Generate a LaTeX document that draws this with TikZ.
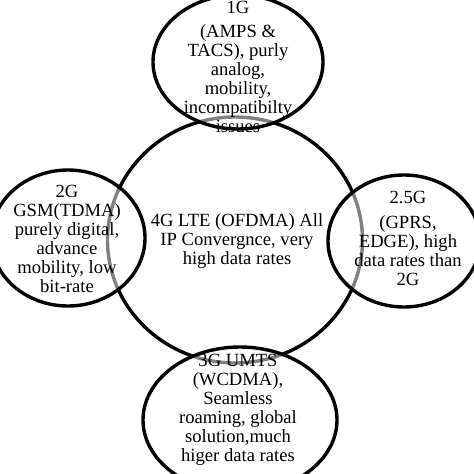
\documentclass[tikz,border=0pt]{standalone}
\usepackage{fontspec}
\setmainfont{Liberation Serif}
\begin{document}
\begin{tikzpicture}[x=1pt,y=-1pt,
  ring/.style={line width=3.4pt,draw=black},
  veil/.style={fill=white,fill opacity=0.5},
  txt/.style={align=center,inner sep=0pt,font=\fontsize{18.6}{19}\selectfont}]
\useasboundingbox (0,0) rectangle (474,474);
% big circle
\draw[ring] (235,240) ellipse [x radius=127.5, y radius=123];
% small ellipses: veil then outline
\foreach \cx/\cy/\rx/\ry in {238/62/85/67, 68/238/77/68, 404/241/76/66, 240/420/97/73}{
  \fill[veil] (\cx,\cy) ellipse [x radius=\rx, y radius=\ry];
  \draw[ring] (\cx,\cy) ellipse [x radius=\rx, y radius=\ry];
}
\node[txt] (g1t) at (238,7) {1G};
\node[txt] (g1) at (238,79) {(AMPS \&\\TACS), purly\\analog,\\mobility,\\incompatibilty\\issues};
\node[txt] (g2) at (67,239) {2G\\GSM(TDMA)\\purely digital,\\advance\\mobility, low\\bit-rate};
\node[txt] (g25t) at (408,197) {2.5G};
\node[txt] (g25) at (408,251) {(GPRS,\\EDGE), high\\data rates than\\2G};
\node[txt] (g3) at (238,410) {3G UMTS\\(WCDMA),\\Seamless\\roaming, global\\solution,much\\higer data rates};
\node[txt] (g4) at (237,241.5) {4G LTE (OFDMA) All\\IP Convergnce, very\\high data rates};
\end{tikzpicture}
\end{document}
